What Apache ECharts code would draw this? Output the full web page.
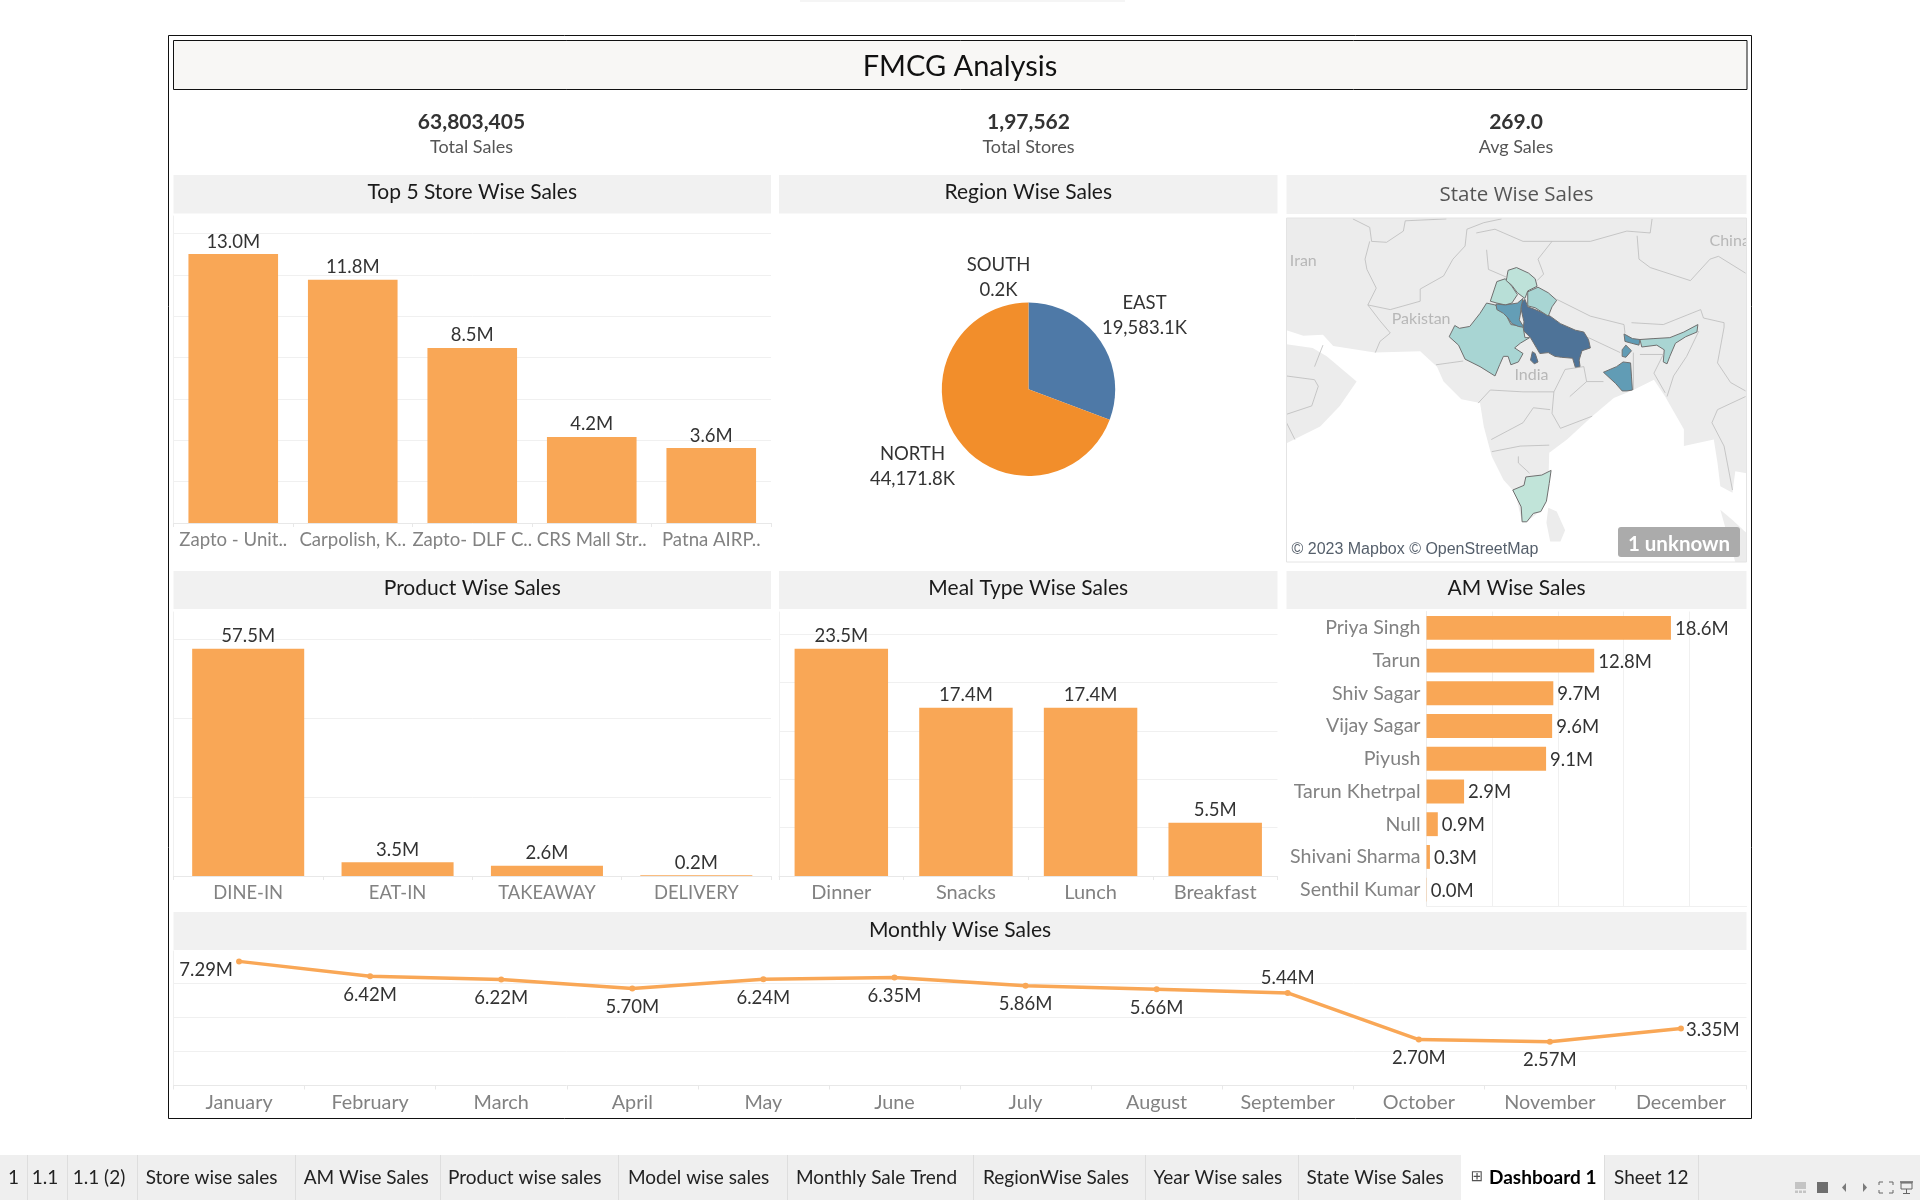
<!DOCTYPE html>
<html>
<head>
<meta charset="utf-8">
<title>FMCG Analysis</title>
<style>html,body{margin:0;padding:0;background:#fff}#c{width:1920px;height:1200px}</style>
<script src="https://cdn.jsdelivr.net/npm/echarts@6/dist/echarts.min.js"></script>
</head>
<body>
<div id="c"></div>
<script>
// ---------- chart data (millions unless noted) ----------
const storeNames = ['Zapto - Unit..', 'Carpolish, K..', 'Zapto- DLF C..', 'CRS Mall Str..', 'Patna AIRP..'];
const storeSales = [13.0, 11.76, 8.46, 4.16, 3.62];
const regionNames = ['EAST', 'NORTH', 'SOUTH'];
const regionSalesK = [19583.1, 44171.8, 0.2];
const productNames = ['DINE-IN', 'EAT-IN', 'TAKEAWAY', 'DELIVERY'];
const productSales = [57.5, 3.5, 2.6, 0.2];
const mealNames = ['Dinner', 'Snacks', 'Lunch', 'Breakfast'];
const mealSales = [23.5, 17.4, 17.4, 5.5];
const amNames = ['Priya Singh', 'Tarun', 'Shiv Sagar', 'Vijay Sagar', 'Piyush', 'Tarun Khetrpal', 'Null', 'Shivani Sharma', 'Senthil Kumar'];
const amSales = [18.6, 12.76, 9.65, 9.56, 9.1, 2.86, 0.86, 0.26, 0.02];
const monthNames = ['January', 'February', 'March', 'April', 'May', 'June', 'July', 'August', 'September', 'October', 'November', 'December'];
const monthSales = [7.29, 6.42, 6.22, 5.70, 6.24, 6.35, 5.86, 5.66, 5.44, 2.70, 2.57, 3.35];
const kpiValues = ['63,803,405', '1,97,562', '269.0'];
const kpiNames = ['Total Sales', 'Total Stores', 'Avg Sales'];
const tabNames = ['1', '1.1', '1.1 (2)', 'Store wise sales', 'AM Wise Sales', 'Product wise sales', 'Model wise sales', 'Monthly Sale Trend', 'RegionWise Sales', 'Year Wise sales', 'State Wise Sales', 'Dashboard 1', 'Sheet 12'];

// state shading (estimated from the colour ramp, M)
const stateNames = ['Uttar Pradesh', 'West Bengal', 'Haryana', 'Rajasthan', 'Uttarakhand', 'Assam', 'Punjab', 'Himachal Pradesh', 'Tamil Nadu'];
const stateSales = [20, 12.5, 12.3, 6.6, 6.7, 6.5, 2.6, 1.2, 0.6];

// ---------- outlines: [longitude, Mercator northing] in degrees ----------
const ocean = [[52, 40.6], [101.2, 40.6], [101.2, 3.8], [52, 3.8]];
const landMain = [[52, 40.6], [101.2, 40.6], [101.2, 13.3], [100, 13.5], [99.7, 11.2], [98.4, 11.9], [98.1, 14.4], [97.7, 16.9], [94.5, 16.2], [94.5, 18], [92.5, 21.5], [91.3, 23.3], [89.1, 22.2], [87, 21.35], [84.7, 19.4], [82, 16.9], [80.1, 15.5], [80, 11.9], [79.3, 9.4], [77.7, 8.1], [77.2, 8.1], [76.45, 11.2], [75.2, 12.6], [73.95, 15.1], [73.1, 18.3], [72.7, 20.8], [70.7, 21.2], [68.8, 23.1], [68.1, 24.7], [66.3, 26.35], [61.45, 26.2], [57, 26.9], [55.9, 28.1], [53.8, 28], [52, 28.6]];
const landOman = [[52, 27.1], [54.8, 26.7], [56.3, 25.8], [59.5, 23.1], [57.7, 20.5], [55.6, 18.3], [52, 16.5]];
const landLanka = [[80, 9.6], [80.9, 9.2], [81.8, 7.2], [81.3, 6], [80.2, 6], [79.8, 8]];
const landMalay = [[98.4, 9.4], [99.7, 8.3], [101.2, 6.9], [101.2, 3.8], [100, 3.8], [99.1, 6.9]];
const upMain = [[77.1, 31.5], [77.5, 31.9], [77.8, 31.1], [78.6, 30.8], [80.2, 30.1], [81.3, 29.3], [82.9, 28.6], [83.8, 28.4], [84.3, 27.6], [84.5, 26.7], [83.6, 26.4], [83.3, 25.4], [83.4, 24.7], [82.9, 24.6], [82.6, 25.6], [81.4, 25.7], [80.7, 25.8], [80, 26.2], [79.1, 26.1], [78.8, 26.6], [78.1, 27.8], [77.3, 28.6], [77.4, 29.5], [77.1, 30.8]];
const upSouth = [[78.3, 26.3], [78.6, 26.1], [78.9, 25.2], [78.5, 25], [78.1, 25.4]];
const rajasthan = [[73.4, 31.5], [74.3, 31.3], [75.4, 30.4], [76, 29.2], [77.3, 29], [77.5, 27.8], [78, 27.8], [77, 27.2], [76.4, 26.7], [77.3, 26.1], [76.8, 25.2], [76, 24.9], [75.7, 25.8], [75.2, 25.8], [74.8, 24.9], [74.3, 23.7], [72.7, 24.7], [71.1, 25.5], [70.4, 27], [69.4, 27.9], [70, 29.1], [70.5, 28.8], [71.6, 29], [72.7, 30.4]];
const haryana = [[74.4, 31.4], [75.4, 31.3], [76.7, 31.5], [77.3, 32], [77.1, 31.1], [77, 30.2], [76.9, 29.7], [77.4, 28.9], [76.8, 29], [76.1, 29.3], [75.7, 29.9], [75.2, 30.4], [74.5, 30.8]];
const punjab = [[74.5, 33.8], [75.4, 34.1], [76.1, 33.3], [76.7, 32.4], [76.1, 31.5], [75.4, 31.3], [74.5, 31.5], [73.8, 31.7]];
const himachal = [[75.7, 35], [76.6, 35.3], [77.9, 34.7], [78.6, 34.1], [78.8, 33.3], [77.8, 32.8], [77.5, 32], [76.7, 32.6], [76.1, 33.4], [75.5, 33.9]];
const uttarakhand = [[77.8, 32.7], [78.9, 33.2], [80, 32.6], [80.9, 31.8], [80.4, 31.1], [80, 30.1], [78.6, 31], [77.8, 31.2]];
const bengalSouth = [[85.9, 24.1], [87.3, 24.7], [88, 25.2], [88.8, 25.1], [88.9, 23.6], [89, 22.2], [88.4, 22.1], [87.9, 22.1], [87.2, 22.9]];
const bengalMid = [[87.9, 26.5], [88.3, 27], [88.9, 26.4], [88.3, 25.7], [87.9, 25.8]];
const bengalNorth = [[88.1, 28.2], [89, 27.7], [89.8, 27.6], [89.7, 27], [88.9, 27.2], [88.2, 27.4]];
const assam = [[89.8, 27.6], [91.3, 27.7], [93, 27.8], [94.5, 28.4], [96, 29.2], [95.9, 28.4], [94.7, 27.9], [93.6, 27.2], [93, 25.8], [92.7, 25], [92.3, 25.2], [92.4, 26.5], [91.6, 27], [90, 26.8]];
const tamilNadu = [[80.3, 13.6], [80.1, 12.2], [79.8, 10.3], [79.2, 9.2], [78.4, 9], [77.7, 8.1], [77.2, 8.1], [77.1, 9.7], [76.2, 11.5], [77.4, 12], [77.6, 12.9], [79.3, 13.1]];
const borderLines = [
  [[59.1, 40.5], [60.9, 39.6], [61.1, 38.1], [62.7, 38], [64.5, 39.2], [64.7, 40.3], [69.1, 40.5]],
  [[60.9, 38.1], [60.4, 36.2], [60.6, 35.1], [61.6, 33.1], [60.7, 31.3], [63.1, 30.8], [66.3, 31.7], [66.3, 33], [68.8, 34.4], [69.8, 36.2], [71.1, 37.6], [71.3, 39.4], [73.1, 40.1], [75, 40.5]],
  [[60.7, 31.3], [62, 29.6], [63.1, 28.3], [62, 27.4], [61.5, 26.2]],
  [[72.3, 39], [74.3, 39.4], [77.3, 38.1], [80.4, 38.1], [78.9, 36.2], [79.5, 34.6], [78.8, 33.9]],
  [[80.4, 38.1], [84.5, 38.1], [88.4, 39.2], [90.9, 39], [91.1, 40.5]],
  [[89.5, 38.7], [89.7, 36.2], [90.9, 35.3], [95.2, 33.9], [97.3, 36.2], [98.2, 36.5], [101.1, 34.7]],
  [[73.4, 37.2], [73.6, 35.1], [75.7, 34.2]],
  [[68, 24.9], [70.9, 25.3]],
  [[80.9, 31.9], [84.5, 30.1], [88.1, 29.2], [88.2, 28.3]],
  [[84.3, 27.8], [87.7, 26.2]],
  [[88.9, 29.4], [92.3, 29.2], [96.3, 30.8], [96.6, 29.9], [98.8, 29.4], [98.8, 28.9], [98.1, 25.1], [99.5, 23], [101.1, 22.1]],
  [[101.1, 21.5], [98.1, 20.1], [97.5, 18.7], [98.8, 16.2], [99.7, 11.5]],
  [[96.1, 28.5], [94.8, 25.8], [93.4, 23.7], [92.7, 21.5]],
  [[89.8, 26], [92.3, 26], [91.3, 24], [92.5, 21.9]],
  [[89.1, 26.2], [89.1, 22.2]],
  [[72.5, 20.8], [73.8, 22.2], [77.3, 22], [80.6, 22], [81.8, 24.4], [83.8, 24.7], [84.1, 23.1]],
  [[80.6, 22], [80.4, 19.7], [81.3, 18.1], [84.7, 19.4]],
  [[82.3, 21.5], [84.1, 23.1], [85.9, 23.1]],
  [[73.9, 16.9], [77.3, 18.7], [78.4, 20.3], [80.2, 20.1]],
  [[73.95, 15.6], [77, 16.2], [80.1, 16.3]],
  [[76.8, 15.1], [76.8, 14.4], [78, 13.3]],
  [[52, 23.7], [55, 23.3], [55.4, 22.6], [54.7, 20.5], [52, 19.6]],
  [[52, 18.7], [52.9, 16.9]],
  [[55.9, 27], [55, 24.7]]
];
const placeNames = [
  { name: 'Iran', value: [53.8, 36] },
  { name: 'Pakistan', value: [66.4, 29.85] },
  { name: 'India', value: [78.2, 23.8] },
  { name: 'China', value: [99.4, 38.2] }
];

// ---------- map resource ----------
const poly = (name, ...rings) => ({
  type: 'Feature', properties: { name },
  geometry: { type: 'MultiPolygon', coordinates: rings.map(r => [r.concat([r[0]])]) }
});
echarts.registerMap('southAsia', {
  type: 'FeatureCollection',
  features: [
    poly('ocean', ocean),
    poly('land', landMain, landOman, landLanka, landMalay),
    poly('Uttar Pradesh', upMain, upSouth),
    poly('Rajasthan', rajasthan),
    poly('Punjab', punjab),
    poly('Himachal Pradesh', himachal),
    poly('Uttarakhand', uttarakhand),
    poly('Haryana', haryana),
    poly('West Bengal', bengalSouth, bengalMid, bengalNorth),
    poly('Assam', assam),
    poly('Tamil Nadu', tamilNadu)
  ]
});

// ---------- style ----------
const FONT = 'Lato';
const BAR = '#F9A756';
const GRID = '#f0f0f0';
const AXIS_TEXT = '#828282';
const VALUE_TEXT = '#333333';
const HEAD_BG = '#f1f1f1';
const LAND = '#ececec';

const L = { a: 173.5, b: 771, c: 779, d: 1277.5, e: 1286.5, f: 1746.5 };
const headers = [
  { text: 'Top 5 Store Wise Sales', x: L.a, w: L.b - L.a, y: 175, h: 38.5, ty: 192 },
  { text: 'Region Wise Sales', x: L.c, w: L.d - L.c, y: 175, h: 38.5, ty: 192 },
  { text: 'State Wise Sales', x: L.e, w: L.f - L.e, y: 175, h: 39, ty: 195, color: '#555555', family: 'Open Sans', size: 20.5 },
  { text: 'Product Wise Sales', x: L.a, w: L.b - L.a, y: 571, h: 38, ty: 588 },
  { text: 'Meal Type Wise Sales', x: L.c, w: L.d - L.c, y: 571, h: 38, ty: 588 },
  { text: 'AM Wise Sales', x: L.e, w: L.f - L.e, y: 571, h: 38, ty: 588 },
  { text: 'Monthly Wise Sales', x: L.a, w: L.f - L.a, y: 912, h: 38, ty: 930 }
];
const kpiX = [471.5, 1028.5, 1516];
const tabX = [13.5, 45, 99, 145.7, 303.7, 448, 628, 796, 983, 1153.5, 1306.5, 1489, 1614];
const tabSeparators = [27, 67, 137, 295, 440, 618, 787, 973, 1145, 1298, 1604, 1698];

const mText = v => v.toFixed(1) + 'M';
const m2Text = v => v.toFixed(2) + 'M';
const centred = (text, left, top, textStyle) => ({ text, left, top, padding: 0, textAlign: 'center', textVerticalAlign: 'middle', textStyle });
const titles = [centred('FMCG Analysis', 960, 67, { fontFamily: FONT, fontSize: 29, fontWeight: 400, color: '#111' })];
headers.forEach(h => titles.push(centred(h.text, h.x + h.w / 2, h.ty, {
  fontFamily: h.family || FONT, fontSize: h.size || 21, fontWeight: 400, color: h.color || '#1a1a1a'
})));
kpiValues.forEach((t, i) => {
  titles.push(centred(t, kpiX[i], 122, { fontFamily: FONT, fontSize: 21, fontWeight: 700, color: '#333' }));
  titles.push(centred(kpiNames[i], kpiX[i], 147, { fontFamily: FONT, fontSize: 18, fontWeight: 400, color: '#555' }));
});

const gfx = [];
const rect = (x, y, w, h, fill, stroke, z, r) => gfx.push({ type: 'rect', z: z || 1, shape: { x, y, width: w, height: h, r: r || 0 }, style: { fill: fill || 'none', stroke: stroke || 'none', lineWidth: 1 }, silent: true });
const txt = (text, x, y, font, fill, align, z) => gfx.push({ type: 'text', z: z || 2, x, y, silent: true, style: { text, font, fill, textAlign: align || 'left', textVerticalAlign: 'middle', align: align || 'left', verticalAlign: 'middle' } });
const tri = (pts, fill) => gfx.push({ type: 'polygon', z: 2, silent: true, shape: { points: pts }, style: { fill } });
const seg = (x1, y1, x2, y2, stroke, w) => gfx.push({ type: 'line', z: 2, silent: true, shape: { x1, y1, x2, y2 }, style: { stroke, lineWidth: w || 1 } });

rect(168.5, 35.5, 1583, 1083, null, '#111');
rect(173.5, 40.5, 1573.5, 49, '#F8F7F5', '#111');
headers.forEach(h => rect(h.x, h.y, h.w, h.h, HEAD_BG));
// tab strip
rect(0, 1155, 1920, 45, '#efefef');
rect(1461, 1155, 143, 45, '#ffffff');
tabSeparators.forEach(x => seg(x + .5, 1155, x + .5, 1200, '#dedede'));
tabNames.forEach((t, i) => {
  const center = i < 3;
  const active = t === 'Dashboard 1';
  txt(t, tabX[i], 1177.5, (active ? '700 ' : '400 ') + '19px ' + FONT, active ? '#000' : '#222', center ? 'center' : 'left');
});
txt('\u229E', 1477, 1177, '15px "DejaVu Sans"', '#555', 'center');
// status icons
rect(1795, 1182, 11, 7, '#c4c4c4'); rect(1795, 1190.5, 3, 2.5, '#c4c4c4'); rect(1799, 1190.5, 3, 2.5, '#c4c4c4'); rect(1803, 1190.5, 3, 2.5, '#c4c4c4');
rect(1817, 1182, 11, 11, '#6e6e6e');
tri([[1846, 1183], [1846, 1192], [1842, 1187.5]], '#7a7a7a');
tri([[1863, 1183], [1863, 1192], [1867, 1187.5]], '#7a7a7a');
[[1879, 1182, 1, 1], [1893, 1182, -1, 1], [1879, 1193, 1, -1], [1893, 1193, -1, -1]].forEach(c => {
  seg(c[0], c[1], c[0] + 4 * c[2], c[1], '#666'); seg(c[0], c[1], c[0], c[1] + 3 * c[3], '#666');
});
rect(1901, 1183, 11, 6, null, '#666'); seg(1900, 1182, 1913, 1182, '#666', 1.5); seg(1906.5, 1189, 1906.5, 1193, '#666'); seg(1903, 1193.5, 1910, 1193.5, '#666');
// faint shadow at the very top
rect(800, 0, 325, 2, '#f5f5f5');
// map overlays
rect(1746.5, 214, 3, 350, '#ffffff', null, 99);
rect(1286.5, 218, 460, 344, null, '#e4e4e4', 100);
rect(1289, 539, 251, 20, 'rgba(255,255,255,0.75)', null, 100);
txt('\u00A9 2023 Mapbox \u00A9 OpenStreetMap', 1291.5, 550, '16px "Liberation Sans"', '#555f6b', 'left', 101);
rect(1618, 527, 122, 30, '#ababab', null, 100, 3);
txt('1 unknown', 1679, 544, '700 20.5px ' + FONT, '#ffffff', 'center', 101);

const grids = [
  { left: L.a, top: 216, width: L.b - L.a, height: 307 },
  { left: L.a, top: 612, width: L.b - L.a, height: 264 },
  { left: L.c, top: 612, width: L.d - L.c, height: 264 },
  { left: 1426.5, top: 611.5, width: L.f - 1426.5, height: 294.5 },
  { left: L.a, top: 951, width: L.f - L.a, height: 134.5 }
];
const catAxis = (gi, data, fontSize, extra) => Object.assign({
  type: 'category', gridIndex: gi, data,
  axisLine: { show: true, lineStyle: { color: '#e8e8e8' } },
  axisTick: { show: true, length: 4, lineStyle: { color: '#e8e8e8' } },
  axisLabel: { color: AXIS_TEXT, fontFamily: FONT, fontSize, margin: 7, interval: 0, hideOverlap: false },
  splitLine: { show: false }
}, extra || {});
const valAxis = (gi, max, interval, extra) => Object.assign({
  type: 'value', gridIndex: gi, min: 0, max, interval,
  axisLine: { show: true, lineStyle: { color: '#f0f0f0' } },
  axisTick: { show: false }, axisLabel: { show: false },
  splitLine: { show: true, showMaxLine: false, showMinLine: false, lineStyle: { color: GRID, width: 1 } }
}, extra || {});
const barSeries = (gi, data, extra) => Object.assign({
  type: 'bar', xAxisIndex: gi, yAxisIndex: gi, data, barWidth: '75%', silent: true,
  itemStyle: { color: BAR },
  label: { show: true, position: 'top', distance: 3, color: VALUE_TEXT, fontFamily: FONT, fontSize: 18.5, formatter: p => mText(p.value) }
}, extra || {});

const labelPlacement = ['left', 'bottom', 'bottom', 'bottom', 'bottom', 'bottom', 'bottom', 'bottom', 'top', 'bottom', 'bottom', 'right'];
const labelNudge = { 0: [2, 9], 8: [0, 4], 11: [-4, 2] };

const regionLabelSpots = { EAST: [1144.5, 316], NORTH: [912.5, 466.5], SOUTH: [998.5, 277.5] };

const option = {
  animation: false,
  backgroundColor: '#ffffff',
  textStyle: { fontFamily: FONT },
  title: titles,
  graphic: { elements: gfx },
  grid: grids,
  xAxis: [
    catAxis(0, storeNames, 18.6),
    catAxis(1, productNames, 18.4, { axisLabel: { color: AXIS_TEXT, fontFamily: FONT, fontSize: 18.4, margin: 8, interval: 0 } }),
    catAxis(2, mealNames, 20),
    valAxis(3, 24.35, 5),
    catAxis(4, monthNames, 19.8)
  ],
  yAxis: [
    valAxis(0, 14.84, 2),
    valAxis(1, 66.8, 20),
    valAxis(2, 27.3, 5),
    catAxis(3, amNames, 19.6, {
      inverse: true, axisTick: { show: false },
      axisLine: { show: true, lineStyle: { color: '#ececec' } },
      axisLabel: { color: AXIS_TEXT, fontFamily: FONT, fontSize: 19.6, margin: 6, interval: 0, padding: [3, 0, 0, 0] }
    }),
    valAxis(4, 7.9, 2)
  ],
  geo: {
    map: 'southAsia', silent: true, roam: false, aspectScale: 1,
    left: 1286.5, top: 218, width: 460, height: 344,
    label: { show: false },
    itemStyle: { areaColor: LAND, borderColor: '#707070', borderWidth: 1 },
    regions: [
      { name: 'ocean', itemStyle: { areaColor: '#ffffff', borderWidth: 0, borderColor: 'transparent' } },
      { name: 'land', itemStyle: { areaColor: LAND, borderWidth: 0, borderColor: 'transparent' } }
    ]
  },
  visualMap: {
    show: false, seriesIndex: 4, min: 0, max: 20,
    inRange: { color: ['#C3E5DA', '#A8D5D3', '#5794B1', '#4E7398'] }
  },
  series: [
    barSeries(0, storeSales),
    barSeries(1, productSales),
    barSeries(2, mealSales),
    barSeries(3, amSales, {
      barWidth: '73%',
      label: { show: true, position: 'right', distance: 4, offset: [0, 1], color: VALUE_TEXT, fontFamily: FONT, fontSize: 18.5, formatter: p => mText(p.value) }
    }),
    { type: 'map', geoIndex: 0, silent: true, data: stateNames.map((name, i) => ({ name, value: stateSales[i] })) },
    {
      type: 'lines', coordinateSystem: 'geo', geoIndex: 0, polyline: true, silent: true,
      lineStyle: { color: '#b4b4b4', width: 0.7, opacity: 1 },
      data: borderLines.map(coords => ({ coords }))
    },
    {
      type: 'scatter', coordinateSystem: 'geo', geoIndex: 0, silent: true, symbolSize: 0,
      data: placeNames,
      label: { show: true, position: 'inside', formatter: '{b}', color: '#aaaaaa', fontFamily: FONT, fontSize: 16 }
    },
    {
      type: 'pie', silent: true, center: [1028.5, 389.3], radius: 86.7, startAngle: 90, clockwise: true,
      data: regionNames.map((name, i) => ({ name, value: regionSalesK[i] })),
      color: ['#4E79A7', '#F28E2B', '#E15759'],
      label: {
        show: true, position: 'outside', color: VALUE_TEXT, fontFamily: FONT, fontSize: 18.5, lineHeight: 25,
        formatter: p => p.name + '\n' + p.value.toLocaleString('en-US', { minimumFractionDigits: 1, maximumFractionDigits: 1 }) + 'K'
      },
      labelLine: { show: false },
      labelLayout: p => {
        const s = regionLabelSpots[regionNames[p.dataIndex]];
        return { x: s[0], y: s[1], align: 'center', verticalAlign: 'middle' };
      }
    },
    {
      type: 'line', xAxisIndex: 4, yAxisIndex: 4, silent: true,
      data: monthSales.map((value, i) => ({ value, label: { position: labelPlacement[i], offset: labelNudge[i] || [0, 0], distance: labelPlacement[i] === 'left' ? 5 : 6 } })),
      symbol: 'circle', symbolSize: 6, showSymbol: true,
      lineStyle: { color: BAR, width: 3.5 }, itemStyle: { color: BAR },
      label: { show: true, color: VALUE_TEXT, fontFamily: FONT, fontSize: 18.5, formatter: p => m2Text(p.value) }
    }
  ]
};
echarts.init(document.getElementById('c')).setOption(option);
</script>
</body>
</html>
